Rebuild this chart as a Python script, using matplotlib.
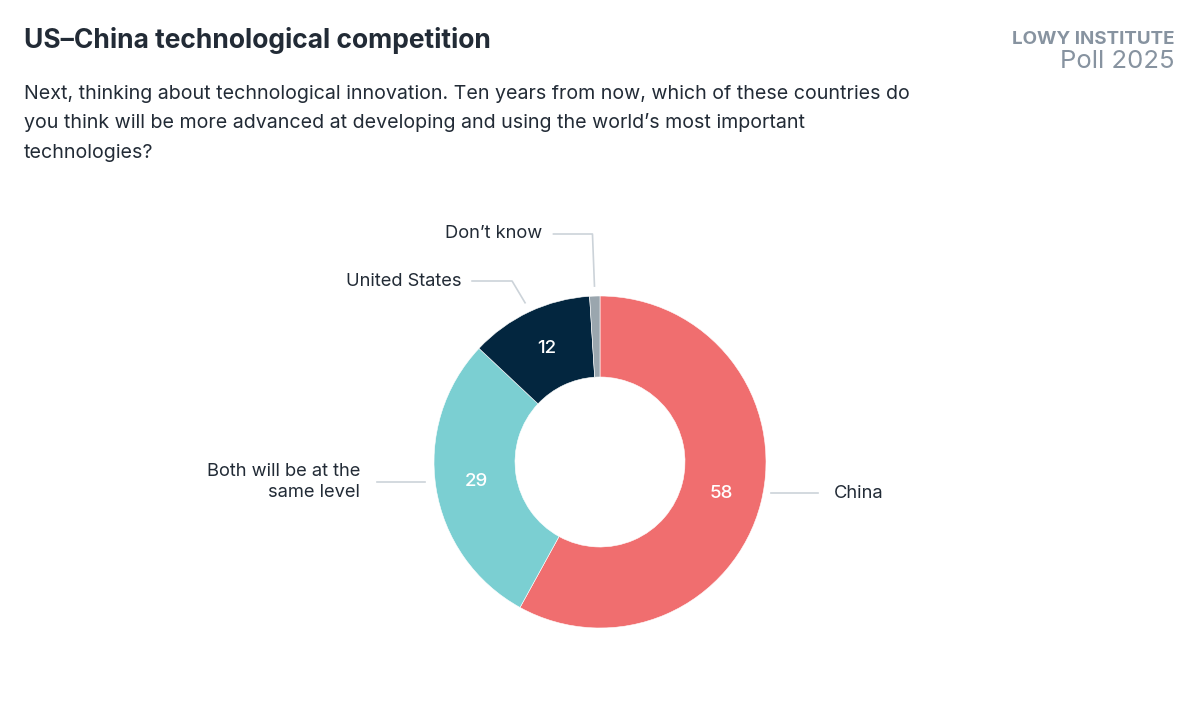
import numpy as np
import matplotlib.pyplot as plt

plt.rcParams["font.family"] = ["Inter", "DejaVu Sans"]

categories = ["China", "Both will be at the\nsame level", "United States", "Don\u2019t know"]
values = [58, 29, 12, 1]
colors = ["#F06E6F", "#7BCFD2", "#03263F", "#9AA6AE"]

subtitle_lines = [
    "Next, thinking about technological innovation. Ten years from now, which of these countries do",
    "you think will be more advanced at developing and using the world\u2019s most important",
    "technologies?",
]

TEXT = "#222B36"
LINE = "#CCD3D9"
W, H = 1200, 705

fig = plt.figure(figsize=(12, 7.05), dpi=100)
ax = fig.add_axes([0, 0, 1, 1])


def Y(py):
    # pixel row -> data y
    return H - py


cx, cy, R, ring = 600, Y(462), 166, 81
wedges, _ = ax.pie(values, colors=colors, startangle=90, counterclock=False,
                   center=(cx, cy), radius=R,
                   wedgeprops=dict(width=ring, edgecolor="white", linewidth=0.4),
                   frame=True)
ax.set_xlim(0, W)
ax.set_ylim(0, H)
ax.set_aspect("equal")
ax.axis("off")

# value labels inside ring
r_mid = R - ring / 2
for w, v in zip(wedges, values):
    if v < 5:
        continue
    th = np.deg2rad((w.theta1 + w.theta2) / 2)
    ax.text(cx + r_mid * np.cos(th), cy + r_mid * np.sin(th), str(v),
            color="white", fontsize=13.5, fontweight="medium", ha="center", va="center")

# category labels with leader lines
r_out = R + 10
fs = 13.2
for i, (w, lab) in enumerate(zip(wedges, categories)):
    th = np.deg2rad((w.theta1 + w.theta2) / 2)
    if i == 0:
        y = cy + r_mid * np.sin(th)
        x0 = cx + (R + 11) * np.cos(th)
        ax.plot([x0, x0 + 47], [y, y], color=LINE, lw=1.2)
        ax.text(x0 + 62, y, lab, color=TEXT, fontsize=fs, ha="left", va="center")
    elif i == 1:
        y = cy + r_mid * np.sin(th)
        x0 = cx + (R + 11) * np.cos(th)
        ax.plot([x0, x0 - 48], [y, y], color=LINE, lw=1.2)
        ax.text(x0 - 65, y, lab, color=TEXT, fontsize=fs, ha="right", va="center",
                multialignment="right", linespacing=1.3)
    else:
        xs, ys = cx + r_out * np.cos(th), cy + r_out * np.sin(th)
        if i == 2:
            pts = [(xs, ys), (xs - 13, Y(281)), (xs - 53, Y(281))]
        else:
            pts = [(xs, ys), (xs - 2, Y(234)), (xs - 41, Y(234))]
        ax.plot([p[0] for p in pts], [p[1] for p in pts], color=LINE, lw=1.2)
        ax.text(pts[-1][0] - 11, pts[-1][1], lab, color=TEXT, fontsize=fs,
                ha="right", va="center")

# header
ax.text(24, Y(40), "US\u2013China technological competition", color=TEXT,
        fontsize=19, fontweight="bold", ha="left", va="center")
for k, line in enumerate(subtitle_lines):
    ax.text(24, Y(99 + 29.5 * k), line, color=TEXT, fontsize=14.15,
            ha="left", va="baseline")
ax.text(1175, Y(40), "LOWY INSTITUTE", color="#8793A0", fontsize=13.5,
        fontweight="bold", ha="right", va="center")
ax.text(1175, Y(61), "Poll 2025", color="#8793A0", fontsize=18.5,
        ha="right", va="center")

fig.savefig("out.png", dpi=100)
